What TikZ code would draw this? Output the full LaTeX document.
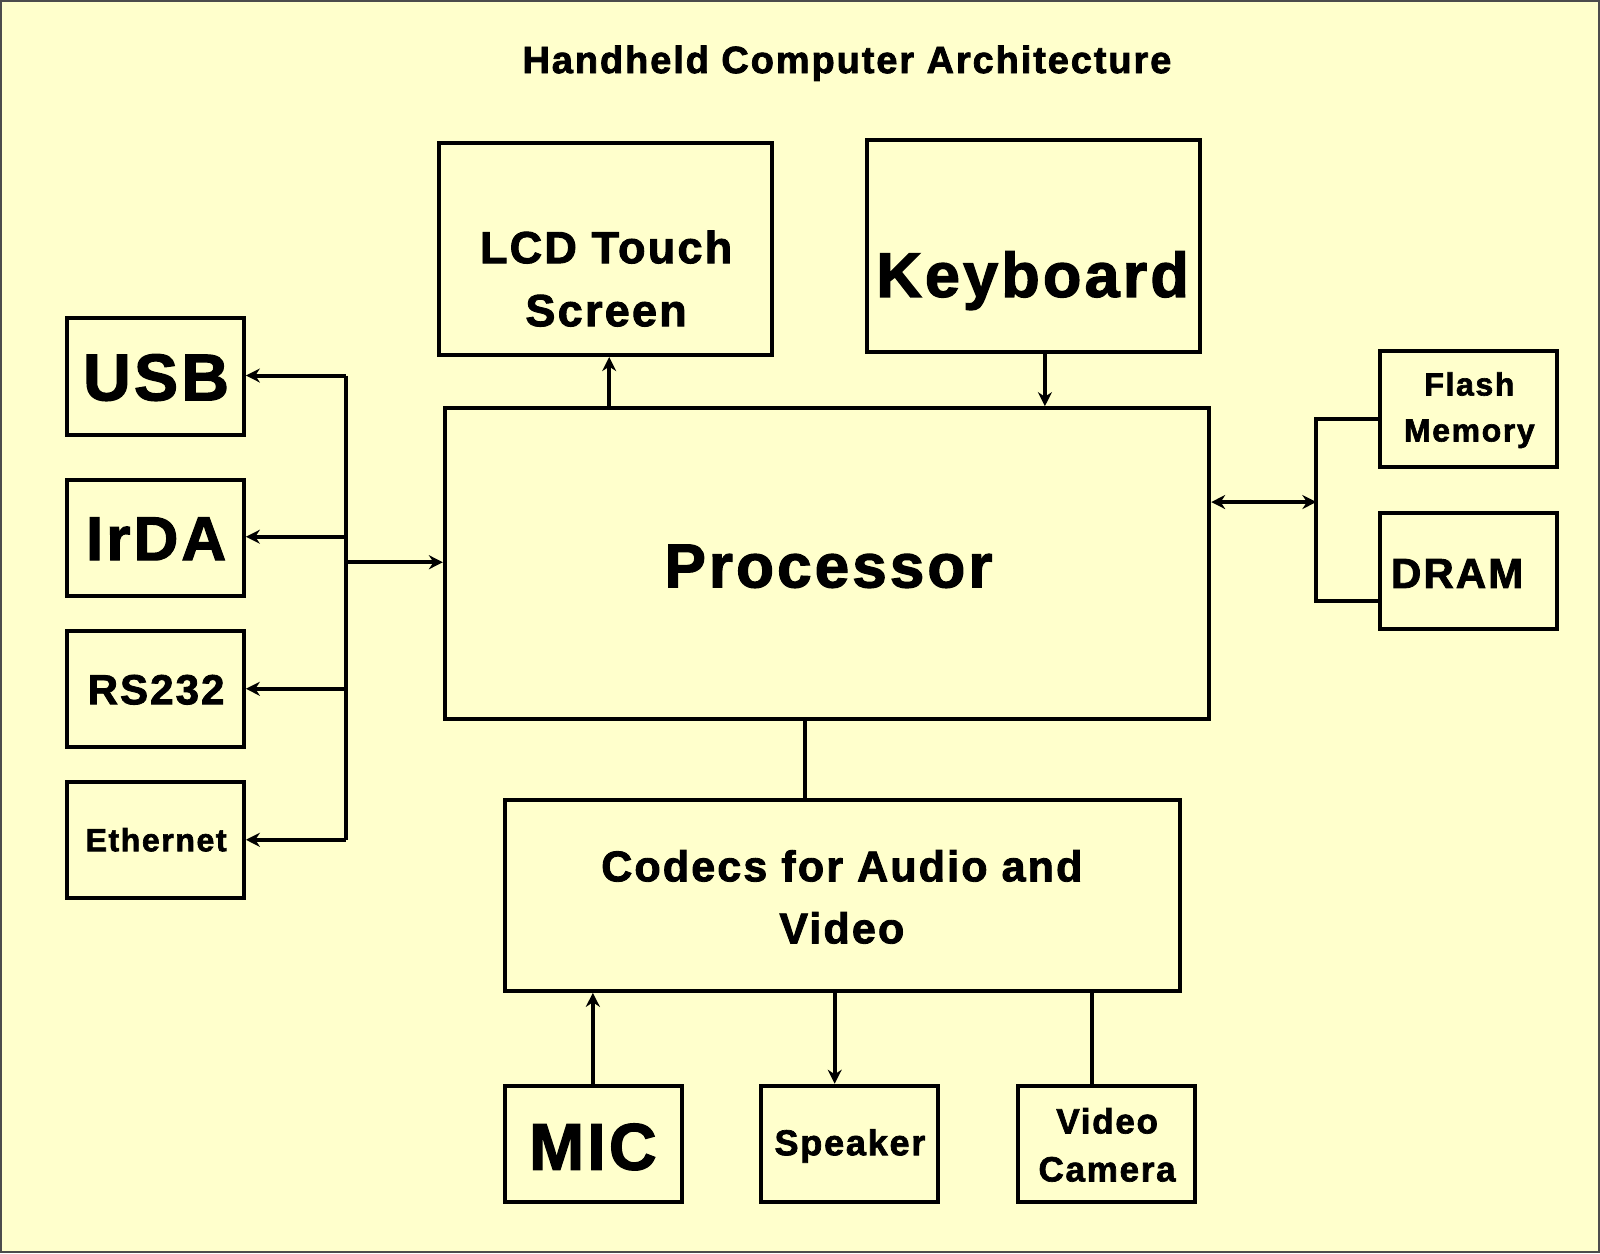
\documentclass[tikz,border=0pt]{standalone}
\usepackage{fontspec}
\setmainfont{Liberation Sans}[BoldFeatures={FakeBold=2,LetterSpace=5}]
\usetikzlibrary{arrows.meta}
\definecolor{bg}{HTML}{FFFFCC}
\tikzset{
  box/.style={draw=black,line width=4pt,inner sep=0pt},
  lbl/.style={font=\bfseries,align=center,inner sep=0pt},
  ln/.style={line width=4pt},
  arr/.style={line width=4pt,-{Stealth[length=14pt,width=14pt]}},
  darr/.style={line width=4pt,{Stealth[length=14pt,width=14pt]}-{Stealth[length=14pt,width=14pt]}}
}
\newcommand{\bx}[5]{\node[box,minimum width=1.0204*(#4-#2)*1pt,minimum height=1.0204*(#5-#3)*1pt] (#1) at ({(#2+#4)/2},{(#3+#5)/2}) {};}
\newcommand{\fs}[2]{\fontsize{#1*1.02}{#2*1.02}\selectfont}
\begin{document}
\begin{tikzpicture}[x=1.0204pt,y=-1.0204pt]
\fill[bg] (0,0) rectangle (1568,1228);
\draw[gray!60!black,line width=2pt] (1,1) rectangle (1567,1227);
\useasboundingbox (0,0) rectangle (1568,1228);
\node[lbl,font=\bfseries\fontsize{38}{44}\selectfont] (title) at (830,62) {Handheld Computer Architecture};
\bx{lcd}{430}{140}{757}{348}
\bx{kbd}{850}{137}{1176}{345}
\bx{usb}{66}{312}{239}{426}
\bx{irda}{66}{470}{239}{584}
\bx{rs}{66}{618}{239}{732}
\bx{eth}{66}{766}{239}{880}
\bx{proc}{436}{400}{1185}{705}
\bx{flash}{1352}{344}{1526}{458}
\bx{dram}{1352}{503}{1526}{616}
\bx{codec}{495}{784}{1156}{971}
\bx{mic}{495}{1064}{668}{1178}
\bx{spk}{746}{1064}{919}{1178}
\bx{cam}{998}{1064}{1171}{1178}
\node[lbl,font=\bfseries\fontsize{45}{63}\selectfont] (lcdt) at (594,273) {LCD Touch\\Screen};
\node[lbl,font=\bfseries\fontsize{63}{70}\selectfont] (kbdt) at (1012,275) {Keyboard};
\node[lbl,font=\bfseries\fontsize{66}{70}\selectfont] (usbt) at (153,370) {USB};
\node[lbl,font=\bfseries\fontsize{62}{70}\selectfont] (irdat) at (153,528) {IrDA};
\node[lbl,font=\bfseries\fontsize{42}{50}\selectfont] (rst) at (153,676) {RS232};
\node[lbl,font=\bfseries\fontsize{32}{40}\selectfont] (etht) at (153,823) {Ethernet};
\node[lbl,font=\bfseries\fontsize{62}{70}\selectfont] (proct) at (812,555) {Processor};
\node[lbl,font=\bfseries\fontsize{32}{46}\selectfont] (flasht) at (1440,402) {Flash\\Memory};
\node[lbl,font=\bfseries\fontsize{42}{50}\selectfont] (dramt) at (1428,562) {DRAM};
\node[lbl,font=\bfseries\fontsize{43}{62}\selectfont] (codect) at (825,879) {Codecs for Audio and\\Video};
\node[lbl,font=\bfseries\fontsize{66}{70}\selectfont] (mict) at (581,1124) {MIC};
\node[lbl,font=\bfseries\fontsize{36}{44}\selectfont] (spkt) at (833,1123) {Speaker};
\node[lbl,font=\bfseries\fontsize{35}{48}\selectfont] (camt) at (1085,1122) {Video\\Camera};
% left bus
\coordinate (b1) at (339,368);
\coordinate (b2) at (339,526);
\coordinate (b3) at (339,675);
\coordinate (b4) at (339,823);
\coordinate (bm) at (339,551);
\draw[ln] (b1) -- (b4);
\draw[arr] (b1) -- (usb.east|-b1);
\draw[arr] (b2) -- (irda.east|-b2);
\draw[arr] (b3) -- (rs.east|-b3);
\draw[arr] (b4) -- (eth.east|-b4);
\draw[arr] (bm) -- (proc.west|-bm);
% top
\coordinate (pl) at (597,400);
\draw[arr] (pl) -- (lcd.south-|pl);
\coordinate (kb) at (1024,345);
\draw[arr] (kb) -- (proc.north-|kb);
% right
\coordinate (r1) at (1290,411);
\coordinate (r2) at (1290,589);
\coordinate (rm) at (1290,492);
\draw[ln] (r1) -- (r2);
\draw[ln] ([xshift=-2pt]r1) -- (flash.west|-r1);
\draw[ln] ([xshift=-2pt]r2) -- (dram.west|-r2);
\draw[darr] (proc.east|-rm) -- (rm);
% bottom
\coordinate (pc) at (789,705);
\draw[ln] (pc) -- (codec.north-|pc);
\coordinate (mc) at (581,1064);
\draw[arr] (mc) -- (codec.south-|mc);
\coordinate (sc) at (818,971);
\draw[arr] (sc) -- (spk.north-|sc);
\coordinate (vc) at (1070,971);
\draw[ln] (vc) -- (cam.north-|vc);
\end{tikzpicture}
\end{document}
